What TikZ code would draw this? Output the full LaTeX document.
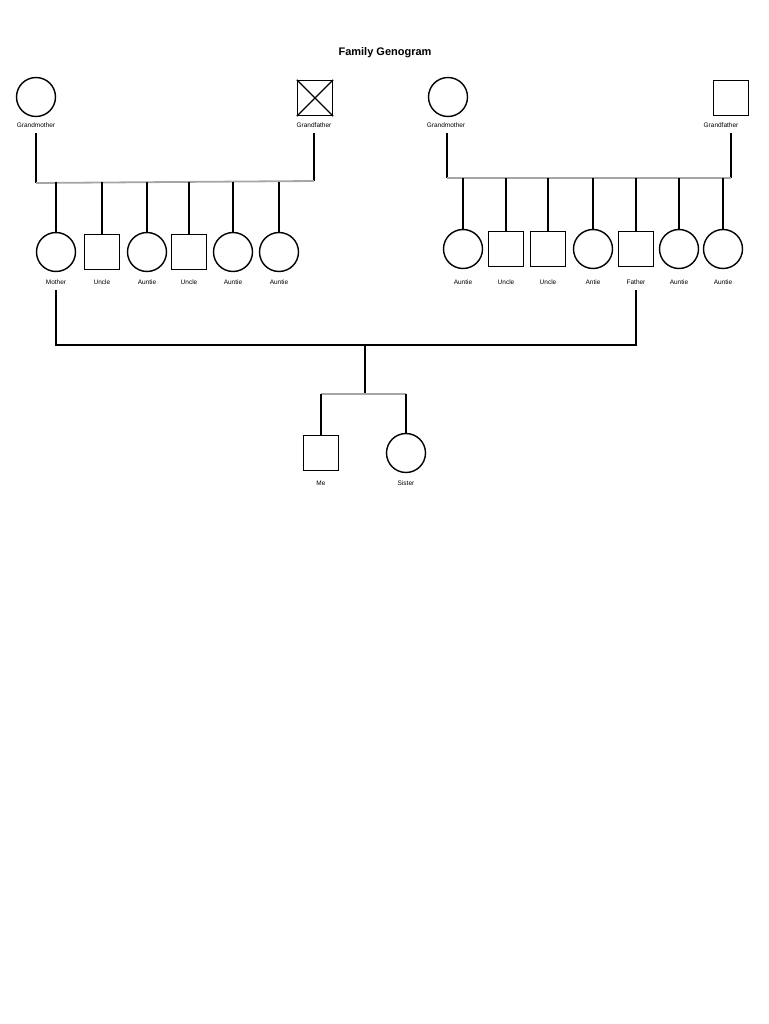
\documentclass[tikz,border=0pt]{standalone}
\usepackage{fontspec}
\setmainfont{Liberation Sans}
\begin{document}
\begin{tikzpicture}[x=1pt,y=-1pt,
  fem/.style={circle,draw,line width=1.4pt,minimum size=39pt,inner sep=0pt},
  mal/.style={rectangle,draw,line width=1.4pt,minimum size=35pt,inner sep=0pt},
  lbl/.style={font=\fontsize{6.5}{7}\selectfont,inner sep=0pt},
  thick line/.style={line width=1.8pt},
  thin line/.style={line width=1.1pt},
  sib/.style={line width=1.8pt,gray!70}]
\useasboundingbox (0,0) rectangle (768,1024);
\node[font=\bfseries\fontsize{11}{13}\selectfont] (title) at (385,53) {Family Genogram};
% left grandparents
\node[fem] (lgm) at (36,97) {};
\node[mal] (lgf) at (315,98) {};
\draw[line width=1.4pt] (lgf.north west) -- (lgf.south east) (lgf.north east) -- (lgf.south west);
\node[lbl] (lgml) at (36,125) {Grandmother};
\node[lbl] (lgfl) at (314,125) {Grandfather};
\coordinate (la) at (36,183); \coordinate (lb) at (314,181);
\draw[thick line] (36,133) -- (la);
\draw[thick line] (314,133) -- (lb);
\draw[sib] (la) -- (lb);
% left children
\node[fem] (mo) at (56,252) {}; \node[lbl] at (56,282) {Mother};
\node[mal] (u1) at (102,252) {}; \node[lbl] at (102,282) {Uncle};
\node[fem] (a1) at (147,252) {}; \node[lbl] at (147,282) {Auntie};
\node[mal] (u2) at (189,252) {}; \node[lbl] at (189,282) {Uncle};
\node[fem] (a2) at (233,252) {}; \node[lbl] at (233,282) {Auntie};
\node[fem] (a3) at (279,252) {}; \node[lbl] at (279,282) {Auntie};
\foreach \n/\x in {mo/56,a1/147,u2/189,a2/233,a3/279} \draw[thick line] (\x,182) -- (\n.north);
\draw[thin line] (102,182) -- (u1.north);
% right grandparents
\node[fem] (rgm) at (448,97) {};
\node[mal] (rgf) at (731,98) {};
\node[lbl] at (446,125) {Grandmother};
\node[lbl] at (721,125) {Grandfather};
\coordinate (ra) at (447,178); \coordinate (rb) at (731,178);
\draw[thin line] (447,133) -- (ra);
\draw[thin line] (731,133) -- (rb);
\draw[sib] (ra) -- (rb);
% right children
\node[fem] (r1) at (463,249) {}; \node[lbl] at (463,282) {Auntie};
\node[mal] (r2) at (506,249) {}; \node[lbl] at (506,282) {Uncle};
\node[mal] (r3) at (548,249) {}; \node[lbl] at (548,282) {Uncle};
\node[fem] (r4) at (593,249) {}; \node[lbl] at (593,282) {Antie};
\node[mal] (fa) at (636,249) {}; \node[lbl] at (636,282) {Father};
\node[fem] (r6) at (679,249) {}; \node[lbl] at (679,282) {Auntie};
\node[fem] (r7) at (723,249) {}; \node[lbl] at (723,282) {Auntie};
\foreach \n/\x in {r1/463,r2/506,r4/593,r6/679} \draw[thin line] (\x,178) -- (\n.north);
\foreach \n/\x in {r3/548,fa/636,r7/723} \draw[thick line] (\x,178) -- (\n.north);
% marriage
\coordinate (m1) at (56,290); \coordinate (f1) at (636,290);
\coordinate (mid) at (365,345); \coordinate (drop) at (365,394);
\draw[thick line] (m1) -- (56,345) -- (636,345) -- (f1);
\draw[thick line] (mid) -- (drop);
\coordinate (ca) at (321,394); \coordinate (cb) at (406,394);
\draw[sib] (ca) -- (cb);
\node[mal] (me) at (321,453) {}; \node[lbl] at (321,483) {Me};
\node[fem] (si) at (406,453) {}; \node[lbl] at (406,483) {Sister};
\draw[thick line] (ca) -- (me.north);
\draw[thick line] (cb) -- (si.north);
\end{tikzpicture}
\end{document}
